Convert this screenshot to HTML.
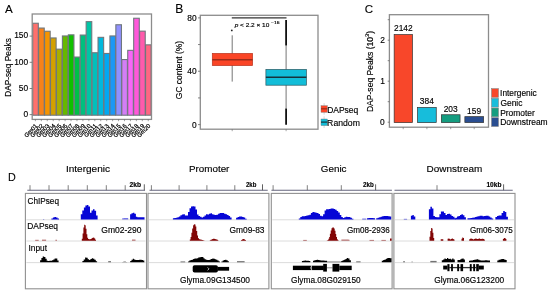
<!DOCTYPE html>
<html><head><meta charset="utf-8"><style>
html,body{margin:0;padding:0;background:#fff;}
svg{display:block;font-family:"Liberation Sans", Arial, sans-serif;}
svg text{stroke:#000;stroke-width:0.15px;}
</style></head><body>
<svg width="550" height="295" viewBox="0 0 550 295">
<rect width="550" height="295" fill="#fff"/>
<text x="5.12" y="13.40" font-size="11.62" textLength="7.75" lengthAdjust="spacingAndGlyphs" style="stroke-width:0.1px">A</text>
<rect x="32.70" y="23.25" width="5.60" height="91.95" fill="#FF706C" stroke="#6f777d" stroke-width="1.1"/>
<rect x="38.64" y="28.05" width="5.60" height="87.15" fill="#F7821A" stroke="#6f777d" stroke-width="1.1"/>
<rect x="44.58" y="31.25" width="5.60" height="83.95" fill="#F59400" stroke="#6f777d" stroke-width="1.1"/>
<rect x="50.52" y="37.95" width="5.60" height="77.25" fill="#D4A000" stroke="#6f777d" stroke-width="1.1"/>
<rect x="56.46" y="49.15" width="5.60" height="66.05" fill="#A8AE00" stroke="#6f777d" stroke-width="1.1"/>
<rect x="62.40" y="35.95" width="5.60" height="79.25" fill="#66B800" stroke="#6f777d" stroke-width="1.1"/>
<rect x="68.34" y="34.85" width="5.60" height="80.35" fill="#10C000" stroke="#6f777d" stroke-width="1.1"/>
<rect x="74.28" y="57.05" width="5.60" height="58.15" fill="#00C048" stroke="#6f777d" stroke-width="1.1"/>
<rect x="80.22" y="35.05" width="5.60" height="80.15" fill="#00C07E" stroke="#6f777d" stroke-width="1.1"/>
<rect x="86.16" y="21.65" width="5.60" height="93.55" fill="#00C5A5" stroke="#6f777d" stroke-width="1.1"/>
<rect x="92.10" y="52.75" width="5.60" height="62.45" fill="#00C0BC" stroke="#6f777d" stroke-width="1.1"/>
<rect x="98.04" y="37.35" width="5.60" height="77.85" fill="#00B8DC" stroke="#6f777d" stroke-width="1.1"/>
<rect x="103.98" y="53.45" width="5.60" height="61.75" fill="#00A8F2" stroke="#6f777d" stroke-width="1.1"/>
<rect x="109.92" y="35.95" width="5.60" height="79.25" fill="#1C98F5" stroke="#6f777d" stroke-width="1.1"/>
<rect x="115.86" y="24.75" width="5.60" height="90.45" fill="#9090FF" stroke="#6f777d" stroke-width="1.1"/>
<rect x="121.80" y="59.55" width="5.60" height="55.65" fill="#D37EF5" stroke="#6f777d" stroke-width="1.1"/>
<rect x="127.74" y="50.35" width="5.60" height="64.85" fill="#F866F8" stroke="#6f777d" stroke-width="1.1"/>
<rect x="133.68" y="18.25" width="5.60" height="96.95" fill="#FF58DA" stroke="#6f777d" stroke-width="1.1"/>
<rect x="139.62" y="31.15" width="5.60" height="84.05" fill="#FF5AAC" stroke="#6f777d" stroke-width="1.1"/>
<rect x="145.56" y="44.85" width="5.60" height="70.35" fill="#FF6682" stroke="#6f777d" stroke-width="1.1"/>
<rect x="32.20" y="14.00" width="119.30" height="105.40" fill="none" stroke="#8c8c8c" stroke-width="1.3"/>
<line x1="29.60" y1="36.10" x2="32.20" y2="36.10" stroke="#666" stroke-width="0.8"/>
<text x="14.16" y="38.30" font-size="8.40">150</text>
<line x1="29.60" y1="62.30" x2="32.20" y2="62.30" stroke="#666" stroke-width="0.8"/>
<text x="14.16" y="64.50" font-size="8.40">100</text>
<line x1="29.60" y1="88.50" x2="32.20" y2="88.50" stroke="#666" stroke-width="0.8"/>
<text x="18.84" y="90.70" font-size="8.40">50</text>
<line x1="29.60" y1="114.60" x2="32.20" y2="114.60" stroke="#666" stroke-width="0.8"/>
<text x="23.50" y="116.80" font-size="8.40">0</text>
<text transform="translate(10.5,96.84) rotate(-90)" font-size="8.33">DAP-seq Peaks</text>
<line x1="35.40" y1="119.40" x2="35.40" y2="121.20" stroke="#666" stroke-width="0.6"/>
<text transform="translate(37.90,126.2) rotate(-46)" font-size="5.9" text-anchor="end" style="stroke-width:0.22px">Gm01</text>
<line x1="41.34" y1="119.40" x2="41.34" y2="121.20" stroke="#666" stroke-width="0.6"/>
<text transform="translate(43.84,126.2) rotate(-46)" font-size="5.9" text-anchor="end" style="stroke-width:0.22px">Gm02</text>
<line x1="47.28" y1="119.40" x2="47.28" y2="121.20" stroke="#666" stroke-width="0.6"/>
<text transform="translate(49.78,126.2) rotate(-46)" font-size="5.9" text-anchor="end" style="stroke-width:0.22px">Gm03</text>
<line x1="53.22" y1="119.40" x2="53.22" y2="121.20" stroke="#666" stroke-width="0.6"/>
<text transform="translate(55.72,126.2) rotate(-46)" font-size="5.9" text-anchor="end" style="stroke-width:0.22px">Gm04</text>
<line x1="59.16" y1="119.40" x2="59.16" y2="121.20" stroke="#666" stroke-width="0.6"/>
<text transform="translate(61.66,126.2) rotate(-46)" font-size="5.9" text-anchor="end" style="stroke-width:0.22px">Gm05</text>
<line x1="65.10" y1="119.40" x2="65.10" y2="121.20" stroke="#666" stroke-width="0.6"/>
<text transform="translate(67.60,126.2) rotate(-46)" font-size="5.9" text-anchor="end" style="stroke-width:0.22px">Gm06</text>
<line x1="71.04" y1="119.40" x2="71.04" y2="121.20" stroke="#666" stroke-width="0.6"/>
<text transform="translate(73.54,126.2) rotate(-46)" font-size="5.9" text-anchor="end" style="stroke-width:0.22px">Gm07</text>
<line x1="76.98" y1="119.40" x2="76.98" y2="121.20" stroke="#666" stroke-width="0.6"/>
<text transform="translate(79.48,126.2) rotate(-46)" font-size="5.9" text-anchor="end" style="stroke-width:0.22px">Gm08</text>
<line x1="82.92" y1="119.40" x2="82.92" y2="121.20" stroke="#666" stroke-width="0.6"/>
<text transform="translate(85.42,126.2) rotate(-46)" font-size="5.9" text-anchor="end" style="stroke-width:0.22px">Gm09</text>
<line x1="88.86" y1="119.40" x2="88.86" y2="121.20" stroke="#666" stroke-width="0.6"/>
<text transform="translate(91.36,126.2) rotate(-46)" font-size="5.9" text-anchor="end" style="stroke-width:0.22px">Gm10</text>
<line x1="94.80" y1="119.40" x2="94.80" y2="121.20" stroke="#666" stroke-width="0.6"/>
<text transform="translate(97.30,126.2) rotate(-46)" font-size="5.9" text-anchor="end" style="stroke-width:0.22px">Gm11</text>
<line x1="100.74" y1="119.40" x2="100.74" y2="121.20" stroke="#666" stroke-width="0.6"/>
<text transform="translate(103.24,126.2) rotate(-46)" font-size="5.9" text-anchor="end" style="stroke-width:0.22px">Gm12</text>
<line x1="106.68" y1="119.40" x2="106.68" y2="121.20" stroke="#666" stroke-width="0.6"/>
<text transform="translate(109.18,126.2) rotate(-46)" font-size="5.9" text-anchor="end" style="stroke-width:0.22px">Gm13</text>
<line x1="112.62" y1="119.40" x2="112.62" y2="121.20" stroke="#666" stroke-width="0.6"/>
<text transform="translate(115.12,126.2) rotate(-46)" font-size="5.9" text-anchor="end" style="stroke-width:0.22px">Gm14</text>
<line x1="118.56" y1="119.40" x2="118.56" y2="121.20" stroke="#666" stroke-width="0.6"/>
<text transform="translate(121.06,126.2) rotate(-46)" font-size="5.9" text-anchor="end" style="stroke-width:0.22px">Gm15</text>
<line x1="124.50" y1="119.40" x2="124.50" y2="121.20" stroke="#666" stroke-width="0.6"/>
<text transform="translate(127.00,126.2) rotate(-46)" font-size="5.9" text-anchor="end" style="stroke-width:0.22px">Gm16</text>
<line x1="130.44" y1="119.40" x2="130.44" y2="121.20" stroke="#666" stroke-width="0.6"/>
<text transform="translate(132.94,126.2) rotate(-46)" font-size="5.9" text-anchor="end" style="stroke-width:0.22px">Gm17</text>
<line x1="136.38" y1="119.40" x2="136.38" y2="121.20" stroke="#666" stroke-width="0.6"/>
<text transform="translate(138.88,126.2) rotate(-46)" font-size="5.9" text-anchor="end" style="stroke-width:0.22px">Gm18</text>
<line x1="142.32" y1="119.40" x2="142.32" y2="121.20" stroke="#666" stroke-width="0.6"/>
<text transform="translate(144.82,126.2) rotate(-46)" font-size="5.9" text-anchor="end" style="stroke-width:0.22px">Gm19</text>
<line x1="148.26" y1="119.40" x2="148.26" y2="121.20" stroke="#666" stroke-width="0.6"/>
<text transform="translate(150.76,126.2) rotate(-46)" font-size="5.9" text-anchor="end" style="stroke-width:0.22px">Gm20</text>
<text x="175.36" y="12.90" font-size="12.02" textLength="8.02" lengthAdjust="spacingAndGlyphs" style="stroke-width:0.1px">B</text>
<line x1="232.20" y1="35.30" x2="232.20" y2="81.60" stroke="#666" stroke-width="0.9"/>
<rect x="212.30" y="53.40" width="40.30" height="12.20" fill="#FA4526" stroke="#b83520" stroke-width="0.7"/>
<line x1="212.30" y1="59.70" x2="252.60" y2="59.70" stroke="#9a2c1a" stroke-width="1.6"/>
<circle cx="231.8" cy="30.4" r="0.9" fill="#222"/>
<line x1="286.10" y1="45.40" x2="286.10" y2="108.50" stroke="#666" stroke-width="0.9"/>
<line x1="286.10" y1="20.00" x2="286.10" y2="45.40" stroke="#111" stroke-width="1.8"/>
<line x1="286.10" y1="108.50" x2="286.10" y2="124.70" stroke="#111" stroke-width="1.8"/>
<rect x="265.90" y="69.40" width="40.50" height="15.80" fill="#12BDD8" stroke="#2d5a63" stroke-width="0.7"/>
<line x1="265.90" y1="77.30" x2="306.40" y2="77.30" stroke="#17323a" stroke-width="1.4"/>
<rect x="200.30" y="15.30" width="117.70" height="113.90" fill="none" stroke="#8c8c8c" stroke-width="1.3"/>
<line x1="198.00" y1="124.60" x2="200.30" y2="124.60" stroke="#666" stroke-width="0.8"/>
<text x="191.90" y="127.50" font-size="8.40">0</text>
<line x1="198.00" y1="97.92" x2="200.30" y2="97.92" stroke="#666" stroke-width="0.8"/>
<line x1="198.00" y1="71.24" x2="200.30" y2="71.24" stroke="#666" stroke-width="0.8"/>
<text x="187.24" y="74.14" font-size="8.40">40</text>
<line x1="198.00" y1="44.56" x2="200.30" y2="44.56" stroke="#666" stroke-width="0.8"/>
<line x1="198.00" y1="17.88" x2="200.30" y2="17.88" stroke="#666" stroke-width="0.8"/>
<text x="187.24" y="20.78" font-size="8.40">80</text>
<line x1="232.20" y1="129.20" x2="232.20" y2="131.20" stroke="#666" stroke-width="0.6"/>
<line x1="286.10" y1="129.20" x2="286.10" y2="131.20" stroke="#666" stroke-width="0.6"/>
<text transform="translate(181.8,99.17) rotate(-90)" font-size="8.46">GC content (%)</text>
<line x1="231.80" y1="17.80" x2="286.50" y2="17.80" stroke="#333" stroke-width="1.2"/>
<text x="234.7" y="26.8" font-size="5.6" textLength="34.6" lengthAdjust="spacingAndGlyphs" stroke="#000" stroke-width="0.15"><tspan font-style="italic">p</tspan> &lt; 2.2 × 10</text>
<text x="271.0" y="23.6" font-size="4.2" textLength="8.6" lengthAdjust="spacingAndGlyphs" stroke="#000" stroke-width="0.12">−16</text>
<line x1="324.10" y1="103.10" x2="324.10" y2="114.70" stroke="#bbb" stroke-width="0.6"/>
<rect x="321.00" y="105.70" width="6.30" height="6.60" fill="#FA4526" stroke="#777" stroke-width="0.4"/>
<line x1="321.00" y1="108.80" x2="327.30" y2="108.80" stroke="#9a2c1a" stroke-width="1.2"/>
<line x1="324.10" y1="116.40" x2="324.10" y2="128.00" stroke="#bbb" stroke-width="0.6"/>
<rect x="321.00" y="119.00" width="6.30" height="6.60" fill="#12BDD8" stroke="#777" stroke-width="0.4"/>
<line x1="321.00" y1="122.10" x2="327.30" y2="122.10" stroke="#17323a" stroke-width="1.2"/>
<text x="327.15" y="112.50" font-size="8.49" textLength="31.14" lengthAdjust="spacingAndGlyphs">DAPseq</text>
<text x="327.13" y="125.80" font-size="8.67" textLength="32.78" lengthAdjust="spacingAndGlyphs">Random</text>
<text x="364.67" y="12.90" font-size="11.54" textLength="8.34" lengthAdjust="spacingAndGlyphs" style="stroke-width:0.1px">C</text>
<rect x="394.15" y="34.55" width="18.30" height="88.05" fill="#F8472A" stroke="#333" stroke-width="0.7"/>
<text x="393.97" y="31.10" font-size="8.40">2142</text>
<rect x="417.55" y="107.45" width="18.70" height="15.15" fill="#17BDDB" stroke="#333" stroke-width="0.7"/>
<text x="419.85" y="104.40" font-size="8.40">384</text>
<rect x="441.35" y="114.75" width="18.70" height="7.85" fill="#159D80" stroke="#333" stroke-width="0.7"/>
<text x="443.66" y="111.60" font-size="8.40">203</text>
<rect x="464.85" y="116.65" width="18.80" height="5.95" fill="#2A4E91" stroke="#333" stroke-width="0.7"/>
<text x="467.12" y="114.30" font-size="8.40">159</text>
<rect x="389.40" y="14.70" width="99.10" height="112.50" fill="none" stroke="#8c8c8c" stroke-width="1.3"/>
<line x1="387.70" y1="122.20" x2="389.40" y2="122.20" stroke="#666" stroke-width="0.8"/>
<text x="380.10" y="124.75" font-size="8.40">0</text>
<line x1="387.70" y1="101.70" x2="389.40" y2="101.70" stroke="#666" stroke-width="0.8"/>
<line x1="387.70" y1="81.20" x2="389.40" y2="81.20" stroke="#666" stroke-width="0.8"/>
<text x="380.19" y="83.75" font-size="8.40">1</text>
<line x1="387.70" y1="60.70" x2="389.40" y2="60.70" stroke="#666" stroke-width="0.8"/>
<line x1="387.70" y1="40.20" x2="389.40" y2="40.20" stroke="#666" stroke-width="0.8"/>
<text x="380.21" y="42.75" font-size="8.40">2</text>
<line x1="387.70" y1="19.70" x2="389.40" y2="19.70" stroke="#666" stroke-width="0.8"/>
<line x1="403.20" y1="127.20" x2="403.20" y2="129.20" stroke="#666" stroke-width="0.6"/>
<line x1="426.90" y1="127.20" x2="426.90" y2="129.20" stroke="#666" stroke-width="0.6"/>
<line x1="450.70" y1="127.20" x2="450.70" y2="129.20" stroke="#666" stroke-width="0.6"/>
<line x1="474.20" y1="127.20" x2="474.20" y2="129.20" stroke="#666" stroke-width="0.6"/>
<text transform="translate(372.6,112.05) rotate(-90)" font-size="8.4" textLength="81.2" lengthAdjust="spacingAndGlyphs">DAP-seq Peaks (10<tspan font-size="5.8" dy="-3.2">3</tspan><tspan dy="3.2">)</tspan></text>
<rect x="491.50" y="88.60" width="7.00" height="8.80" fill="#F8472A" stroke="#888" stroke-width="0.6"/>
<text x="500.08" y="96.20" font-size="8.33" textLength="36.59" lengthAdjust="spacingAndGlyphs">Intergenic</text>
<rect x="491.50" y="98.30" width="7.00" height="8.80" fill="#17BDDB" stroke="#888" stroke-width="0.6"/>
<text x="500.43" y="105.90" font-size="8.42">Genic</text>
<rect x="491.50" y="108.00" width="7.00" height="8.80" fill="#159D80" stroke="#888" stroke-width="0.6"/>
<text x="500.16" y="115.60" font-size="8.42">Promoter</text>
<rect x="491.50" y="117.70" width="7.00" height="8.80" fill="#2A4E91" stroke="#888" stroke-width="0.6"/>
<text x="500.15" y="125.30" font-size="8.47" textLength="47.55" lengthAdjust="spacingAndGlyphs">Downstream</text>
<text x="7.96" y="181.30" font-size="10.80" textLength="7.80" lengthAdjust="spacingAndGlyphs" style="stroke-width:0.1px">D</text>
<text x="65.92" y="171.80" font-size="9.90" textLength="44.10" lengthAdjust="spacingAndGlyphs">Intergenic</text>
<text x="188.94" y="171.80" font-size="9.90" textLength="40.46" lengthAdjust="spacingAndGlyphs">Promoter</text>
<text x="320.86" y="171.80" font-size="9.90" textLength="25.66" lengthAdjust="spacingAndGlyphs">Genic</text>
<text x="426.63" y="171.80" font-size="9.90" textLength="55.77" lengthAdjust="spacingAndGlyphs">Downstream</text>
<line x1="27.30" y1="190.20" x2="145.00" y2="190.20" stroke="#66667e" stroke-width="1.15"/>
<line x1="30.00" y1="185.20" x2="30.00" y2="190.20" stroke="#555" stroke-width="0.75"/>
<line x1="49.00" y1="185.20" x2="49.00" y2="190.20" stroke="#555" stroke-width="0.75"/>
<line x1="68.20" y1="185.20" x2="68.20" y2="190.20" stroke="#555" stroke-width="0.75"/>
<line x1="87.30" y1="185.20" x2="87.30" y2="190.20" stroke="#555" stroke-width="0.75"/>
<line x1="106.30" y1="185.20" x2="106.30" y2="190.20" stroke="#555" stroke-width="0.75"/>
<line x1="125.20" y1="185.20" x2="125.20" y2="190.20" stroke="#555" stroke-width="0.75"/>
<line x1="144.30" y1="184.30" x2="144.30" y2="190.20" stroke="#444" stroke-width="0.85"/>
<text x="129.52" y="186.70" font-size="6.50" font-weight="bold" textLength="11.51" lengthAdjust="spacingAndGlyphs" stroke="#000" stroke-width="0.25">2kb</text>
<line x1="149.50" y1="190.20" x2="267.70" y2="190.20" stroke="#66667e" stroke-width="1.15"/>
<line x1="151.40" y1="185.20" x2="151.40" y2="190.20" stroke="#555" stroke-width="0.75"/>
<line x1="179.10" y1="185.20" x2="179.10" y2="190.20" stroke="#555" stroke-width="0.75"/>
<line x1="206.90" y1="185.20" x2="206.90" y2="190.20" stroke="#555" stroke-width="0.75"/>
<line x1="234.80" y1="185.20" x2="234.80" y2="190.20" stroke="#555" stroke-width="0.75"/>
<line x1="262.50" y1="184.30" x2="262.50" y2="190.20" stroke="#444" stroke-width="0.85"/>
<text x="246.04" y="186.70" font-size="6.50" font-weight="bold" textLength="10.35" lengthAdjust="spacingAndGlyphs" stroke="#000" stroke-width="0.25">2kb</text>
<line x1="271.40" y1="190.20" x2="391.90" y2="190.20" stroke="#66667e" stroke-width="1.15"/>
<line x1="273.10" y1="185.20" x2="273.10" y2="190.20" stroke="#555" stroke-width="0.75"/>
<line x1="307.30" y1="185.20" x2="307.30" y2="190.20" stroke="#555" stroke-width="0.75"/>
<line x1="341.30" y1="185.20" x2="341.30" y2="190.20" stroke="#555" stroke-width="0.75"/>
<line x1="375.60" y1="184.30" x2="375.60" y2="190.20" stroke="#444" stroke-width="0.85"/>
<text x="363.03" y="186.70" font-size="6.50" font-weight="bold" textLength="10.67" lengthAdjust="spacingAndGlyphs" stroke="#000" stroke-width="0.25">2kb</text>
<line x1="394.50" y1="190.20" x2="512.70" y2="190.20" stroke="#66667e" stroke-width="1.15"/>
<line x1="437.00" y1="185.20" x2="437.00" y2="190.20" stroke="#555" stroke-width="0.75"/>
<line x1="503.60" y1="184.30" x2="503.60" y2="190.20" stroke="#444" stroke-width="0.85"/>
<text x="486.44" y="186.70" font-size="6.50" font-weight="bold" textLength="14.99" lengthAdjust="spacingAndGlyphs" stroke="#000" stroke-width="0.25">10kb</text>
<rect x="25.40" y="193.40" width="121.10" height="95.40" fill="#fff" stroke="#909090" stroke-width="1.1"/>
<line x1="26.40" y1="219.80" x2="145.50" y2="219.80" stroke="#d8d8d8" stroke-width="0.9"/>
<line x1="26.40" y1="241.00" x2="145.50" y2="241.00" stroke="#d8d8d8" stroke-width="0.9"/>
<line x1="26.40" y1="262.60" x2="145.50" y2="262.60" stroke="#d8d8d8" stroke-width="0.9"/>
<rect x="148.00" y="193.40" width="120.90" height="95.40" fill="#fff" stroke="#909090" stroke-width="1.1"/>
<line x1="149.00" y1="219.80" x2="267.90" y2="219.80" stroke="#d8d8d8" stroke-width="0.9"/>
<line x1="149.00" y1="241.00" x2="267.90" y2="241.00" stroke="#d8d8d8" stroke-width="0.9"/>
<line x1="149.00" y1="262.60" x2="267.90" y2="262.60" stroke="#d8d8d8" stroke-width="0.9"/>
<rect x="271.30" y="193.40" width="120.80" height="95.40" fill="#fff" stroke="#909090" stroke-width="1.1"/>
<line x1="272.30" y1="219.80" x2="391.10" y2="219.80" stroke="#d8d8d8" stroke-width="0.9"/>
<line x1="272.30" y1="241.00" x2="391.10" y2="241.00" stroke="#d8d8d8" stroke-width="0.9"/>
<line x1="272.30" y1="262.60" x2="391.10" y2="262.60" stroke="#d8d8d8" stroke-width="0.9"/>
<rect x="393.90" y="193.40" width="121.10" height="95.40" fill="#fff" stroke="#909090" stroke-width="1.1"/>
<line x1="394.90" y1="219.80" x2="514.00" y2="219.80" stroke="#d8d8d8" stroke-width="0.9"/>
<line x1="394.90" y1="241.00" x2="514.00" y2="241.00" stroke="#d8d8d8" stroke-width="0.9"/>
<line x1="394.90" y1="262.60" x2="514.00" y2="262.60" stroke="#d8d8d8" stroke-width="0.9"/>
<polygon points="43.0,219.6 43.0,218.9 44.2,218.9 44.2,219.6" fill="#0606D6" fill-opacity="0.55"/>
<polygon points="51.4,219.6 51.4,218.6 52.9,218.6 52.9,217.6 54.4,217.6 54.4,217.1 56.0,217.1 56.0,217.5 57.5,217.5 57.5,218.6 59.0,218.6 59.0,219.6" fill="#0606D6"/>
<polygon points="80.8,219.6 80.8,214.2 82.3,214.2 82.3,210.6 83.9,210.6 83.9,207.5 85.4,207.5 85.4,205.5 86.9,205.5 86.9,205.1 88.4,205.1 88.4,206.6 90.0,206.6 90.0,212.8 91.5,212.8 91.5,210.4 93.0,210.4 93.0,209.3 94.5,209.3 94.5,210.8 96.1,210.8 96.1,215.6 97.6,215.6 97.6,219.6" fill="#0606D6"/>
<polygon points="122.2,219.6 122.2,218.2 123.7,218.2 123.7,218.1 125.2,218.1 125.2,218.1 126.7,218.1 126.7,218.0 128.2,218.0 128.2,219.6" fill="#0606D6" fill-opacity="0.55"/>
<polygon points="130.1,219.6 130.1,214.3 131.5,214.3 131.5,213.2 133.0,213.2 133.0,212.8 134.4,212.8 134.4,213.7 135.9,213.7 135.9,216.8 137.3,216.8 137.3,217.2 138.7,217.2 138.7,217.2 140.2,217.2 140.2,217.2 141.6,217.2 141.6,217.2 143.1,217.2 143.1,217.2 144.5,217.2 144.5,219.6" fill="#0606D6"/>
<polygon points="172.9,219.6 172.9,218.3 174.4,218.3 174.4,218.0 175.9,218.0 175.9,217.8 177.4,217.8 177.4,217.3 178.9,217.3 178.9,216.5 180.4,216.5 180.4,215.2 181.9,215.2 181.9,214.4 183.4,214.4 183.4,214.2 184.9,214.2 184.9,215.5 186.4,215.5 186.4,215.4 188.0,215.4 188.0,212.1 189.5,212.1 189.5,208.2 191.0,208.2 191.0,206.5 192.5,206.5 192.5,206.3 194.0,206.3 194.0,206.6 195.5,206.6 195.5,209.6 197.0,209.6 197.0,214.6 198.5,214.6 198.5,216.1 200.0,216.1 200.0,216.7 201.5,216.7 201.5,217.4 203.0,217.4 203.0,216.7 204.5,216.7 204.5,215.5 206.0,215.5 206.0,214.3 207.5,214.3 207.5,214.5 209.0,214.5 209.0,213.7 210.5,213.7 210.5,213.2 212.0,213.2 212.0,214.3 213.5,214.3 213.5,214.8 215.0,214.8 215.0,214.9 216.5,214.9 216.5,214.8 218.1,214.8 218.1,213.7 219.6,213.7 219.6,213.0 221.1,213.0 221.1,213.0 222.6,213.0 222.6,213.1 224.1,213.1 224.1,213.7 225.6,213.7 225.6,214.3 227.1,214.3 227.1,214.9 228.6,214.9 228.6,216.0 230.1,216.0 230.1,217.4 231.6,217.4 231.6,219.6" fill="#0606D6"/>
<polygon points="236.1,219.6 236.1,217.8 237.6,217.8 237.6,216.9 239.1,216.9 239.1,216.4 240.6,216.4 240.6,216.5 242.2,216.5 242.2,216.9 243.7,216.9 243.7,217.5 245.2,217.5 245.2,218.7 246.7,218.7 246.7,219.6" fill="#0606D6"/>
<polygon points="298.8,219.6 298.8,218.4 300.3,218.4 300.3,216.9 301.8,216.9 301.8,216.2 303.4,216.2 303.4,216.2 304.9,216.2 304.9,216.1 306.4,216.1 306.4,215.4 307.9,215.4 307.9,215.3 309.4,215.3 309.4,214.8 310.9,214.8 310.9,213.0 312.4,213.0 312.4,211.9 314.0,211.9 314.0,212.2 315.5,212.2 315.5,212.8 317.0,212.8 317.0,212.9 318.5,212.9 318.5,214.1 320.0,214.1 320.0,215.7 321.6,215.7 321.6,216.3 323.1,216.3 323.1,214.3 324.6,214.3 324.6,210.4 326.1,210.4 326.1,209.3 327.6,209.3 327.6,209.2 329.1,209.2 329.1,209.0 330.6,209.0 330.6,208.5 332.2,208.5 332.2,208.4 333.7,208.4 333.7,209.0 335.2,209.0 335.2,209.8 336.7,209.8 336.7,210.9 338.2,210.9 338.2,212.5 339.8,212.5 339.8,215.0 341.3,215.0 341.3,216.9 342.8,216.9 342.8,217.9 344.3,217.9 344.3,217.3 345.8,217.3 345.8,216.8 347.3,216.8 347.3,216.9 348.8,216.9 348.8,217.1 350.4,217.1 350.4,217.8 351.9,217.8 351.9,218.8 353.4,218.8 353.4,219.6" fill="#0606D6"/>
<polygon points="362.2,219.6 362.2,218.5 363.5,218.5 363.5,218.5 364.8,218.5 364.8,218.5 366.1,218.5 366.1,219.6" fill="#0606D6" fill-opacity="0.55"/>
<polygon points="366.9,219.6 366.9,218.2 368.5,218.2 368.5,218.0 370.2,218.0 370.2,217.9 371.8,217.9 371.8,218.0 373.5,218.0 373.5,218.2 375.1,218.2 375.1,219.6" fill="#0606D6"/>
<polygon points="376.2,219.6 376.2,218.2 377.7,218.2 377.7,217.7 379.2,217.7 379.2,217.3 380.7,217.3 380.7,216.8 382.2,216.8 382.2,216.2 383.7,216.2 383.7,215.9 385.2,215.9 385.2,216.0 386.7,216.0 386.7,216.1 388.2,216.1 388.2,216.2 389.7,216.2 389.7,216.6 391.2,216.6 391.2,219.6" fill="#0606D6"/>
<polygon points="403.8,219.6 403.8,218.8 405.5,218.8 405.5,218.8 407.1,218.8 407.1,219.6" fill="#0606D6" fill-opacity="0.55"/>
<polygon points="410.9,219.6 410.9,215.8 412.4,215.8 412.4,215.0 413.8,215.0 413.8,216.4 415.3,216.4 415.3,219.6" fill="#0606D6"/>
<polygon points="428.9,219.6 428.9,209.3 430.4,209.3 430.4,206.7 431.9,206.7 431.9,208.5 433.4,208.5 433.4,216.1 434.9,216.1 434.9,216.9 436.4,216.9 436.4,217.2 437.9,217.2 437.9,217.3 439.4,217.3 439.4,214.2 440.9,214.2 440.9,211.6 442.4,211.6 442.4,211.4 444.0,211.4 444.0,213.0 445.5,213.0 445.5,214.9 447.0,214.9 447.0,213.9 448.5,213.9 448.5,213.8 450.0,213.8 450.0,214.6 451.5,214.6 451.5,215.9 453.0,215.9 453.0,216.7 454.5,216.7 454.5,218.2 456.0,218.2 456.0,219.6" fill="#0606D6"/>
<polygon points="455.5,219.6 455.5,217.7 457.0,217.7 457.0,216.5 458.5,216.5 458.5,215.9 460.0,215.9 460.0,214.9 461.4,214.9 461.4,214.3 462.9,214.3 462.9,215.2 464.4,215.2 464.4,217.3 465.9,217.3 465.9,219.6" fill="#0606D6"/>
<polygon points="467.5,219.6 467.5,218.3 469.0,218.3 469.0,218.2 470.5,218.2 470.5,218.1 472.0,218.1 472.0,217.8 473.5,217.8 473.5,217.4 475.1,217.4 475.1,217.0 476.6,217.0 476.6,216.6 478.1,216.6 478.1,216.2 479.6,216.2 479.6,215.7 481.1,215.7 481.1,215.8 482.6,215.8 482.6,216.3 484.1,216.3 484.1,216.0 485.6,216.0 485.6,215.7 487.2,215.7 487.2,215.8 488.7,215.8 488.7,216.5 490.2,216.5 490.2,217.4 491.7,217.4 491.7,218.4 493.2,218.4 493.2,219.6" fill="#0606D6"/>
<polygon points="495.4,219.6 495.4,216.9 497.0,216.9 497.0,215.9 498.5,215.9 498.5,215.5 500.1,215.5 500.1,215.4 501.6,215.4 501.6,213.0 503.2,213.0 503.2,210.9 504.8,210.9 504.8,212.0 506.3,212.0 506.3,216.8 507.9,216.8 507.9,219.6" fill="#0606D6"/>
<polygon points="81.8,240.8 81.8,238.7 82.6,238.7 82.6,233.4 83.4,233.4 83.4,227.6 84.2,227.6 84.2,224.8 85.0,224.8 85.0,225.3 85.7,225.3 85.7,228.8 86.5,228.8 86.5,234.2 87.3,234.2 87.3,237.7 88.1,237.7 88.1,239.1 88.9,239.1 88.9,239.2 89.7,239.2 89.7,239.3 90.5,239.3 90.5,239.0 91.3,239.0 91.3,238.5 92.1,238.5 92.1,238.1 92.8,238.1 92.8,237.6 93.6,237.6 93.6,237.7 94.4,237.7 94.4,238.6 95.2,238.6 95.2,239.7 96.0,239.7 96.0,240.8" fill="#820606"/>
<polygon points="35.2,240.8 35.2,239.8 36.1,239.8 36.1,239.8 37.0,239.8 37.0,239.8 37.8,239.8 37.8,239.8 38.7,239.8 38.7,240.8" fill="#820606" fill-opacity="0.55"/>
<polygon points="42.0,240.8 42.0,239.6 42.8,239.6 42.8,239.6 43.6,239.6 43.6,239.6 44.5,239.6 44.5,239.6 45.3,239.6 45.3,239.6 46.1,239.6 46.1,240.8" fill="#820606" fill-opacity="0.55"/>
<polygon points="55.4,240.8 55.4,239.8 56.2,239.8 56.2,239.8 57.0,239.8 57.0,240.8" fill="#820606" fill-opacity="0.55"/>
<polygon points="132.0,240.8 132.0,239.5 132.9,239.5 132.9,239.4 133.8,239.4 133.8,239.4 134.6,239.4 134.6,239.5 135.5,239.5 135.5,240.8" fill="#820606" fill-opacity="0.55"/>
<polygon points="189.8,240.8 189.8,239.6 190.6,239.6 190.6,237.0 191.4,237.0 191.4,232.7 192.2,232.7 192.2,228.4 193.1,228.4 193.1,225.3 193.9,225.3 193.9,224.2 194.7,224.2 194.7,224.6 195.5,224.6 195.5,226.6 196.3,226.6 196.3,231.0 197.2,231.0 197.2,235.5 198.0,235.5 198.0,238.0 198.8,238.0 198.8,239.1 199.6,239.1 199.6,239.4 200.4,239.4 200.4,239.6 201.2,239.6 201.2,239.8 202.1,239.8 202.1,240.1 202.9,240.1 202.9,240.3 203.7,240.3 203.7,240.6 204.5,240.6 204.5,240.8" fill="#820606"/>
<polygon points="209.8,240.8 209.8,240.3 210.6,240.3 210.6,239.7 211.4,239.7 211.4,239.4 212.2,239.4 212.2,239.1 213.0,239.1 213.0,238.8 213.8,238.8 213.8,238.7 214.7,238.7 214.7,239.0 215.5,239.0 215.5,239.2 216.3,239.2 216.3,239.4 217.1,239.4 217.1,239.8 217.9,239.8 217.9,240.4 218.7,240.4 218.7,240.8" fill="#820606"/>
<polygon points="241.1,240.8 241.1,240.0 241.9,240.0 241.9,239.4 242.7,239.4 242.7,239.0 243.5,239.0 243.5,239.0 244.3,239.0 244.3,239.4 245.1,239.4 245.1,240.0 245.9,240.0 245.9,240.8" fill="#820606"/>
<polygon points="326.8,240.8 326.8,240.5 327.6,240.5 327.6,240.0 328.4,240.0 328.4,238.8 329.2,238.8 329.2,236.9 329.9,236.9 329.9,233.7 330.7,233.7 330.7,230.4 331.5,230.4 331.5,228.2 332.3,228.2 332.3,227.4 333.1,227.4 333.1,227.5 333.9,227.5 333.9,228.5 334.7,228.5 334.7,230.8 335.5,230.8 335.5,234.0 336.2,234.0 336.2,237.1 337.0,237.1 337.0,239.2 337.8,239.2 337.8,240.2 338.6,240.2 338.6,240.8" fill="#820606"/>
<polygon points="341.4,240.8 341.4,239.6 342.2,239.6 342.2,239.6 343.0,239.6 343.0,239.6 343.8,239.6 343.8,239.6 344.6,239.6 344.6,239.6 345.4,239.6 345.4,239.6 346.3,239.6 346.3,239.6 347.1,239.6 347.1,239.6 347.9,239.6 347.9,239.6 348.7,239.6 348.7,239.7 349.5,239.7 349.5,240.8" fill="#820606" fill-opacity="0.55"/>
<polygon points="303.2,240.8 303.2,239.9 303.9,239.9 303.9,239.9 304.6,239.9 304.6,239.9 305.4,239.9 305.4,239.9 306.1,239.9 306.1,239.9 306.8,239.9 306.8,240.8" fill="#820606" fill-opacity="0.55"/>
<polygon points="369.5,240.8 369.5,239.9 370.2,239.9 370.2,239.9 371.0,239.9 371.0,239.9 371.8,239.9 371.8,239.9 372.5,239.9 372.5,239.9 373.2,239.9 373.2,239.9 374.0,239.9 374.0,240.8" fill="#820606" fill-opacity="0.55"/>
<polygon points="381.4,240.8 381.4,239.9 382.1,239.9 382.1,239.9 382.9,239.9 382.9,239.9 383.6,239.9 383.6,239.9 384.4,239.9 384.4,239.9 385.1,239.9 385.1,239.9 385.9,239.9 385.9,240.8" fill="#820606" fill-opacity="0.55"/>
<polygon points="390.0,240.8 390.0,238.5 390.8,238.5 390.8,238.5 391.6,238.5 391.6,240.8" fill="#820606"/>
<polygon points="429.5,240.8 429.5,236.7 430.3,236.7 430.3,231.1 431.1,231.1 431.1,228.0 431.9,228.0 431.9,228.6 432.6,228.6 432.6,232.8 433.4,232.8 433.4,238.0 434.2,238.0 434.2,240.8" fill="#820606"/>
<polygon points="440.7,240.8 440.7,239.3 441.6,239.3 441.6,239.2 442.4,239.2 442.4,239.3 443.3,239.3 443.3,240.8" fill="#820606"/>
<polygon points="447.6,240.8 447.6,238.8 448.4,238.8 448.4,238.5 449.1,238.5 449.1,238.8 449.9,238.8 449.9,239.4 450.7,239.4 450.7,239.0 451.4,239.0 451.4,238.7 452.2,238.7 452.2,238.5 453.0,238.5 453.0,238.9 453.7,238.9 453.7,239.4 454.5,239.4 454.5,240.8" fill="#820606"/>
<polygon points="461.5,240.8 461.5,238.7 462.3,238.7 462.3,237.6 463.2,237.6 463.2,238.1 464.0,238.1 464.0,240.8" fill="#820606"/>
<polygon points="469.2,240.8 469.2,239.2 470.0,239.2 470.0,238.7 470.8,238.7 470.8,238.5 471.5,238.5 471.5,238.8 472.3,238.8 472.3,239.1 473.1,239.1 473.1,239.4 473.9,239.4 473.9,239.1 474.7,239.1 474.7,238.8 475.4,238.8 475.4,238.5 476.2,238.5 476.2,238.7 477.0,238.7 477.0,239.0 477.8,239.0 477.8,239.0 478.6,239.0 478.6,238.6 479.3,238.6 479.3,238.6 480.1,238.6 480.1,239.0 480.9,239.0 480.9,239.1 481.7,239.1 481.7,238.7 482.5,238.7 482.5,238.7 483.2,238.7 483.2,239.1 484.0,239.1 484.0,239.6 484.8,239.6 484.8,240.8" fill="#820606"/>
<polygon points="502.9,240.8 502.9,238.9 503.8,238.9 503.8,238.1 504.6,238.1 504.6,238.1 505.5,238.1 505.5,239.1 506.4,239.1 506.4,240.8" fill="#820606"/>
<polygon points="40.1,262.3 40.1,260.3 41.4,260.3 41.4,258.1 42.7,258.1 42.7,256.5 44.1,256.5 44.1,257.1 45.4,257.1 45.4,258.7 46.7,258.7 46.7,260.7 48.0,260.7 48.0,260.9 49.4,260.9 49.4,260.8 50.7,260.8 50.7,260.8 52.0,260.8 52.0,260.3 53.3,260.3 53.3,259.5 54.6,259.5 54.6,258.6 56.0,258.6 56.0,258.6 57.3,258.6 57.3,260.6 58.6,260.6 58.6,262.3" fill="#000000"/>
<polygon points="82.4,262.3 82.4,261.1 83.7,261.1 83.7,259.4 85.1,259.4 85.1,257.6 86.4,257.6 86.4,257.8 87.7,257.8 87.7,259.3 89.1,259.3 89.1,260.1 90.4,260.1 90.4,259.0 91.8,259.0 91.8,258.3 93.1,258.3 93.1,258.8 94.4,258.8 94.4,259.8 95.8,259.8 95.8,261.2 97.1,261.2 97.1,262.3" fill="#000000"/>
<polygon points="108.2,262.3 108.2,261.1 109.6,261.1 109.6,261.1 111.0,261.1 111.0,262.3" fill="#000000" fill-opacity="0.55"/>
<polygon points="122.2,262.3 122.2,261.9 123.4,261.9 123.4,261.4 124.7,261.4 124.7,261.4 125.9,261.4 125.9,261.9 127.1,261.9 127.1,262.3" fill="#000000" fill-opacity="0.55"/>
<polygon points="130.2,262.3 130.2,261.0 131.5,261.0 131.5,259.7 132.8,259.7 132.8,258.8 134.0,258.8 134.0,259.4 135.3,259.4 135.3,260.1 136.6,260.1 136.6,260.1 137.9,260.1 137.9,259.9 139.2,259.9 139.2,259.8 140.5,259.8 140.5,259.7 141.7,259.7 141.7,259.9 143.0,259.9 143.0,260.4 144.3,260.4 144.3,262.3" fill="#000000"/>
<polygon points="180.5,262.3 180.5,261.4 181.7,261.4 181.7,261.4 182.8,261.4 182.8,261.4 184.0,261.4 184.0,261.4 185.2,261.4 185.2,262.3" fill="#000000" fill-opacity="0.55"/>
<polygon points="188.0,262.3 188.0,261.4 189.3,261.4 189.3,260.5 190.6,260.5 190.6,260.1 191.8,260.1 191.8,259.7 193.1,259.7 193.1,259.1 194.4,259.1 194.4,258.4 195.7,258.4 195.7,258.5 197.0,258.5 197.0,258.3 198.2,258.3 198.2,257.4 199.5,257.4 199.5,257.2 200.8,257.2 200.8,256.9 202.1,256.9 202.1,257.0 203.4,257.0 203.4,258.2 204.6,258.2 204.6,259.2 205.9,259.2 205.9,259.8 207.2,259.8 207.2,260.1 208.5,260.1 208.5,260.0 209.8,260.0 209.8,259.6 211.0,259.6 211.0,259.1 212.3,259.1 212.3,258.6 213.6,258.6 213.6,258.7 214.9,258.7 214.9,259.2 216.2,259.2 216.2,259.8 217.4,259.8 217.4,260.6 218.7,260.6 218.7,261.5 220.0,261.5 220.0,262.3" fill="#000000"/>
<polygon points="221.4,262.3 221.4,261.4 222.7,261.4 222.7,260.6 223.9,260.6 223.9,260.1 225.2,260.1 225.2,259.8 226.4,259.8 226.4,260.3 227.7,260.3 227.7,261.3 228.9,261.3 228.9,262.3" fill="#000000"/>
<polygon points="237.0,262.3 237.0,261.1 238.3,261.1 238.3,261.1 239.5,261.1 239.5,261.1 240.8,261.1 240.8,261.1 242.1,261.1 242.1,261.1 243.3,261.1 243.3,261.1 244.6,261.1 244.6,262.3" fill="#000000" fill-opacity="0.55"/>
<polygon points="301.9,262.3 301.9,261.1 303.3,261.1 303.3,260.8 304.7,260.8 304.7,260.6 306.1,260.6 306.1,260.7 307.5,260.7 307.5,260.8 308.9,260.8 308.9,261.0 310.3,261.0 310.3,262.3" fill="#000000"/>
<polygon points="313.0,262.3 313.0,260.8 314.3,260.8 314.3,260.2 315.6,260.2 315.6,259.9 316.8,259.9 316.8,259.7 318.1,259.7 318.1,259.9 319.4,259.9 319.4,260.2 320.7,260.2 320.7,260.4 322.0,260.4 322.0,260.5 323.3,260.5 323.3,260.6 324.5,260.6 324.5,260.7 325.8,260.7 325.8,260.8 327.1,260.8 327.1,262.3" fill="#000000"/>
<polygon points="327.1,262.3 327.1,261.5 328.4,261.5 328.4,261.5 329.7,261.5 329.7,261.5 330.9,261.5 330.9,261.5 332.2,261.5 332.2,261.5 333.5,261.5 333.5,261.5 334.8,261.5 334.8,261.5 336.1,261.5 336.1,261.5 337.4,261.5 337.4,261.5 338.6,261.5 338.6,261.5 339.9,261.5 339.9,261.5 341.2,261.5 341.2,262.3" fill="#000000" fill-opacity="0.55"/>
<polygon points="341.2,262.3 341.2,261.0 342.6,261.0 342.6,260.2 344.0,260.2 344.0,259.7 345.4,259.7 345.4,258.9 346.7,258.9 346.7,258.1 348.1,258.1 348.1,258.5 349.5,258.5 349.5,260.3 350.9,260.3 350.9,262.3" fill="#000000"/>
<polygon points="356.2,262.3 356.2,261.3 357.7,261.3 357.7,261.3 359.1,261.3 359.1,261.3 360.6,261.3 360.6,262.3" fill="#000000" fill-opacity="0.55"/>
<polygon points="381.8,262.3 381.8,260.8 383.2,260.8 383.2,260.0 384.6,260.0 384.6,259.4 386.0,259.4 386.0,258.7 387.3,258.7 387.3,258.1 388.7,258.1 388.7,258.0 390.1,258.0 390.1,258.3 391.5,258.3 391.5,262.3" fill="#000000"/>
<polygon points="403.1,262.3 403.1,261.3 405.0,261.3 405.0,262.3" fill="#000000" fill-opacity="0.55"/>
<polygon points="411.6,262.3 411.6,261.4 412.6,261.4 412.6,262.3" fill="#000000" fill-opacity="0.55"/>
<polygon points="430.3,262.3 430.3,260.9 431.6,260.9 431.6,260.9 432.8,260.9 432.8,260.9 434.1,260.9 434.1,260.9 435.3,260.9 435.3,260.9 436.6,260.9 436.6,262.3" fill="#000000" fill-opacity="0.55"/>
<polygon points="441.8,262.3 441.8,260.2 443.1,260.2 443.1,259.4 444.4,259.4 444.4,258.5 445.7,258.5 445.7,259.0 447.0,259.0 447.0,258.1 448.3,258.1 448.3,258.9 449.6,258.9 449.6,258.8 450.9,258.8 450.9,259.6 452.2,259.6 452.2,258.5 453.5,258.5 453.5,259.4 454.8,259.4 454.8,262.3" fill="#000000"/>
<polygon points="457.5,262.3 457.5,260.1 458.7,260.1 458.7,259.9 460.0,259.9 460.0,259.4 461.2,259.4 461.2,258.7 462.4,258.7 462.4,258.5 463.7,258.5 463.7,259.6 464.9,259.6 464.9,262.3" fill="#000000"/>
<polygon points="469.0,262.3 469.0,260.7 470.3,260.7 470.3,260.5 471.6,260.5 471.6,260.4 472.9,260.4 472.9,260.1 474.2,260.1 474.2,259.7 475.6,259.7 475.6,259.4 476.9,259.4 476.9,259.3 478.2,259.3 478.2,259.8 479.5,259.8 479.5,260.3 480.8,260.3 480.8,260.4 482.1,260.4 482.1,260.5 483.4,260.5 483.4,260.4 484.8,260.4 484.8,260.2 486.1,260.2 486.1,260.3 487.4,260.3 487.4,260.4 488.7,260.4 488.7,260.6 490.0,260.6 490.0,262.3" fill="#000000"/>
<polygon points="497.3,262.3 497.3,260.4 498.6,260.4 498.6,259.8 500.0,259.8 500.0,259.4 501.3,259.4 501.3,259.1 502.7,259.1 502.7,259.1 504.0,259.1 504.0,259.4 505.4,259.4 505.4,260.1 506.7,260.1 506.7,262.3" fill="#000000"/>
<rect x="192.7" y="265.3" width="25.2" height="7.2" rx="1.8" fill="#000"/>
<rect x="217.60" y="266.90" width="11.50" height="3.80" fill="#000" stroke="none" stroke-width="1"/>
<path d="M207.6,267.4 L209.0,268.9 L207.6,270.4" fill="none" stroke="#fff" stroke-width="0.7"/>
<line x1="326.90" y1="267.80" x2="332.50" y2="267.80" stroke="#777" stroke-width="0.8"/>
<rect x="292.90" y="265.70" width="18.00" height="4.40" fill="#000" stroke="none" stroke-width="1"/>
<rect x="311.50" y="265.70" width="12.30" height="4.40" fill="#000" stroke="none" stroke-width="1"/>
<rect x="323.20" y="263.90" width="3.70" height="7.70" fill="#000" stroke="none" stroke-width="1"/>
<rect x="332.50" y="263.90" width="6.80" height="7.70" fill="#000" stroke="none" stroke-width="1"/>
<rect x="339.30" y="265.70" width="12.40" height="4.40" fill="#000" stroke="none" stroke-width="1"/>
<path d="M311.6,266.2 L310.6,267.9 L311.6,269.6" fill="none" stroke="#fff" stroke-width="0.6"/>
<line x1="449.20" y1="267.60" x2="476.30" y2="267.60" stroke="#333" stroke-width="1.3"/>
<rect x="443.20" y="265.60" width="4.30" height="3.90" fill="#000" stroke="none" stroke-width="1"/>
<rect x="478.60" y="265.60" width="5.20" height="3.90" fill="#000" stroke="none" stroke-width="1"/>
<rect x="447.40" y="264.10" width="2.10" height="7.10" fill="#000" stroke="none" stroke-width="1"/>
<rect x="451.10" y="264.10" width="1.80" height="7.10" fill="#000" stroke="none" stroke-width="1"/>
<rect x="457.20" y="264.10" width="1.90" height="7.10" fill="#000" stroke="none" stroke-width="1"/>
<rect x="460.50" y="264.10" width="2.60" height="7.10" fill="#000" stroke="none" stroke-width="1"/>
<rect x="469.80" y="264.10" width="1.90" height="7.10" fill="#000" stroke="none" stroke-width="1"/>
<rect x="473.20" y="264.10" width="1.90" height="7.10" fill="#000" stroke="none" stroke-width="1"/>
<rect x="476.20" y="264.10" width="2.60" height="7.10" fill="#000" stroke="none" stroke-width="1"/>
<text x="27.54" y="203.80" font-size="8.30" textLength="31.43" lengthAdjust="spacingAndGlyphs">ChIPseq</text>
<text x="27.26" y="228.90" font-size="8.30" textLength="30.72" lengthAdjust="spacingAndGlyphs">DAPseq</text>
<text x="28.48" y="251.00" font-size="8.30" textLength="18.53" lengthAdjust="spacingAndGlyphs">Input</text>
<text x="101.32" y="233.30" font-size="8.30" textLength="40.26" lengthAdjust="spacingAndGlyphs">Gm02-290</text>
<text x="229.53" y="233.30" font-size="8.30" textLength="34.99" lengthAdjust="spacingAndGlyphs">Gm09-83</text>
<text x="346.95" y="233.30" font-size="8.30" textLength="42.76" lengthAdjust="spacingAndGlyphs">Gm08-2936</text>
<text x="469.95" y="233.30" font-size="8.30" textLength="42.74" lengthAdjust="spacingAndGlyphs">Gm06-3075</text>
<text x="179.93" y="282.60" font-size="8.30" textLength="70.05" lengthAdjust="spacingAndGlyphs">Glyma.09G134500</text>
<text x="291.04" y="282.60" font-size="8.30" textLength="69.64" lengthAdjust="spacingAndGlyphs">Glyma.08G029150</text>
<text x="434.23" y="282.60" font-size="8.30" textLength="69.94" lengthAdjust="spacingAndGlyphs">Glyma.06G123200</text>
</svg>
</body></html>
